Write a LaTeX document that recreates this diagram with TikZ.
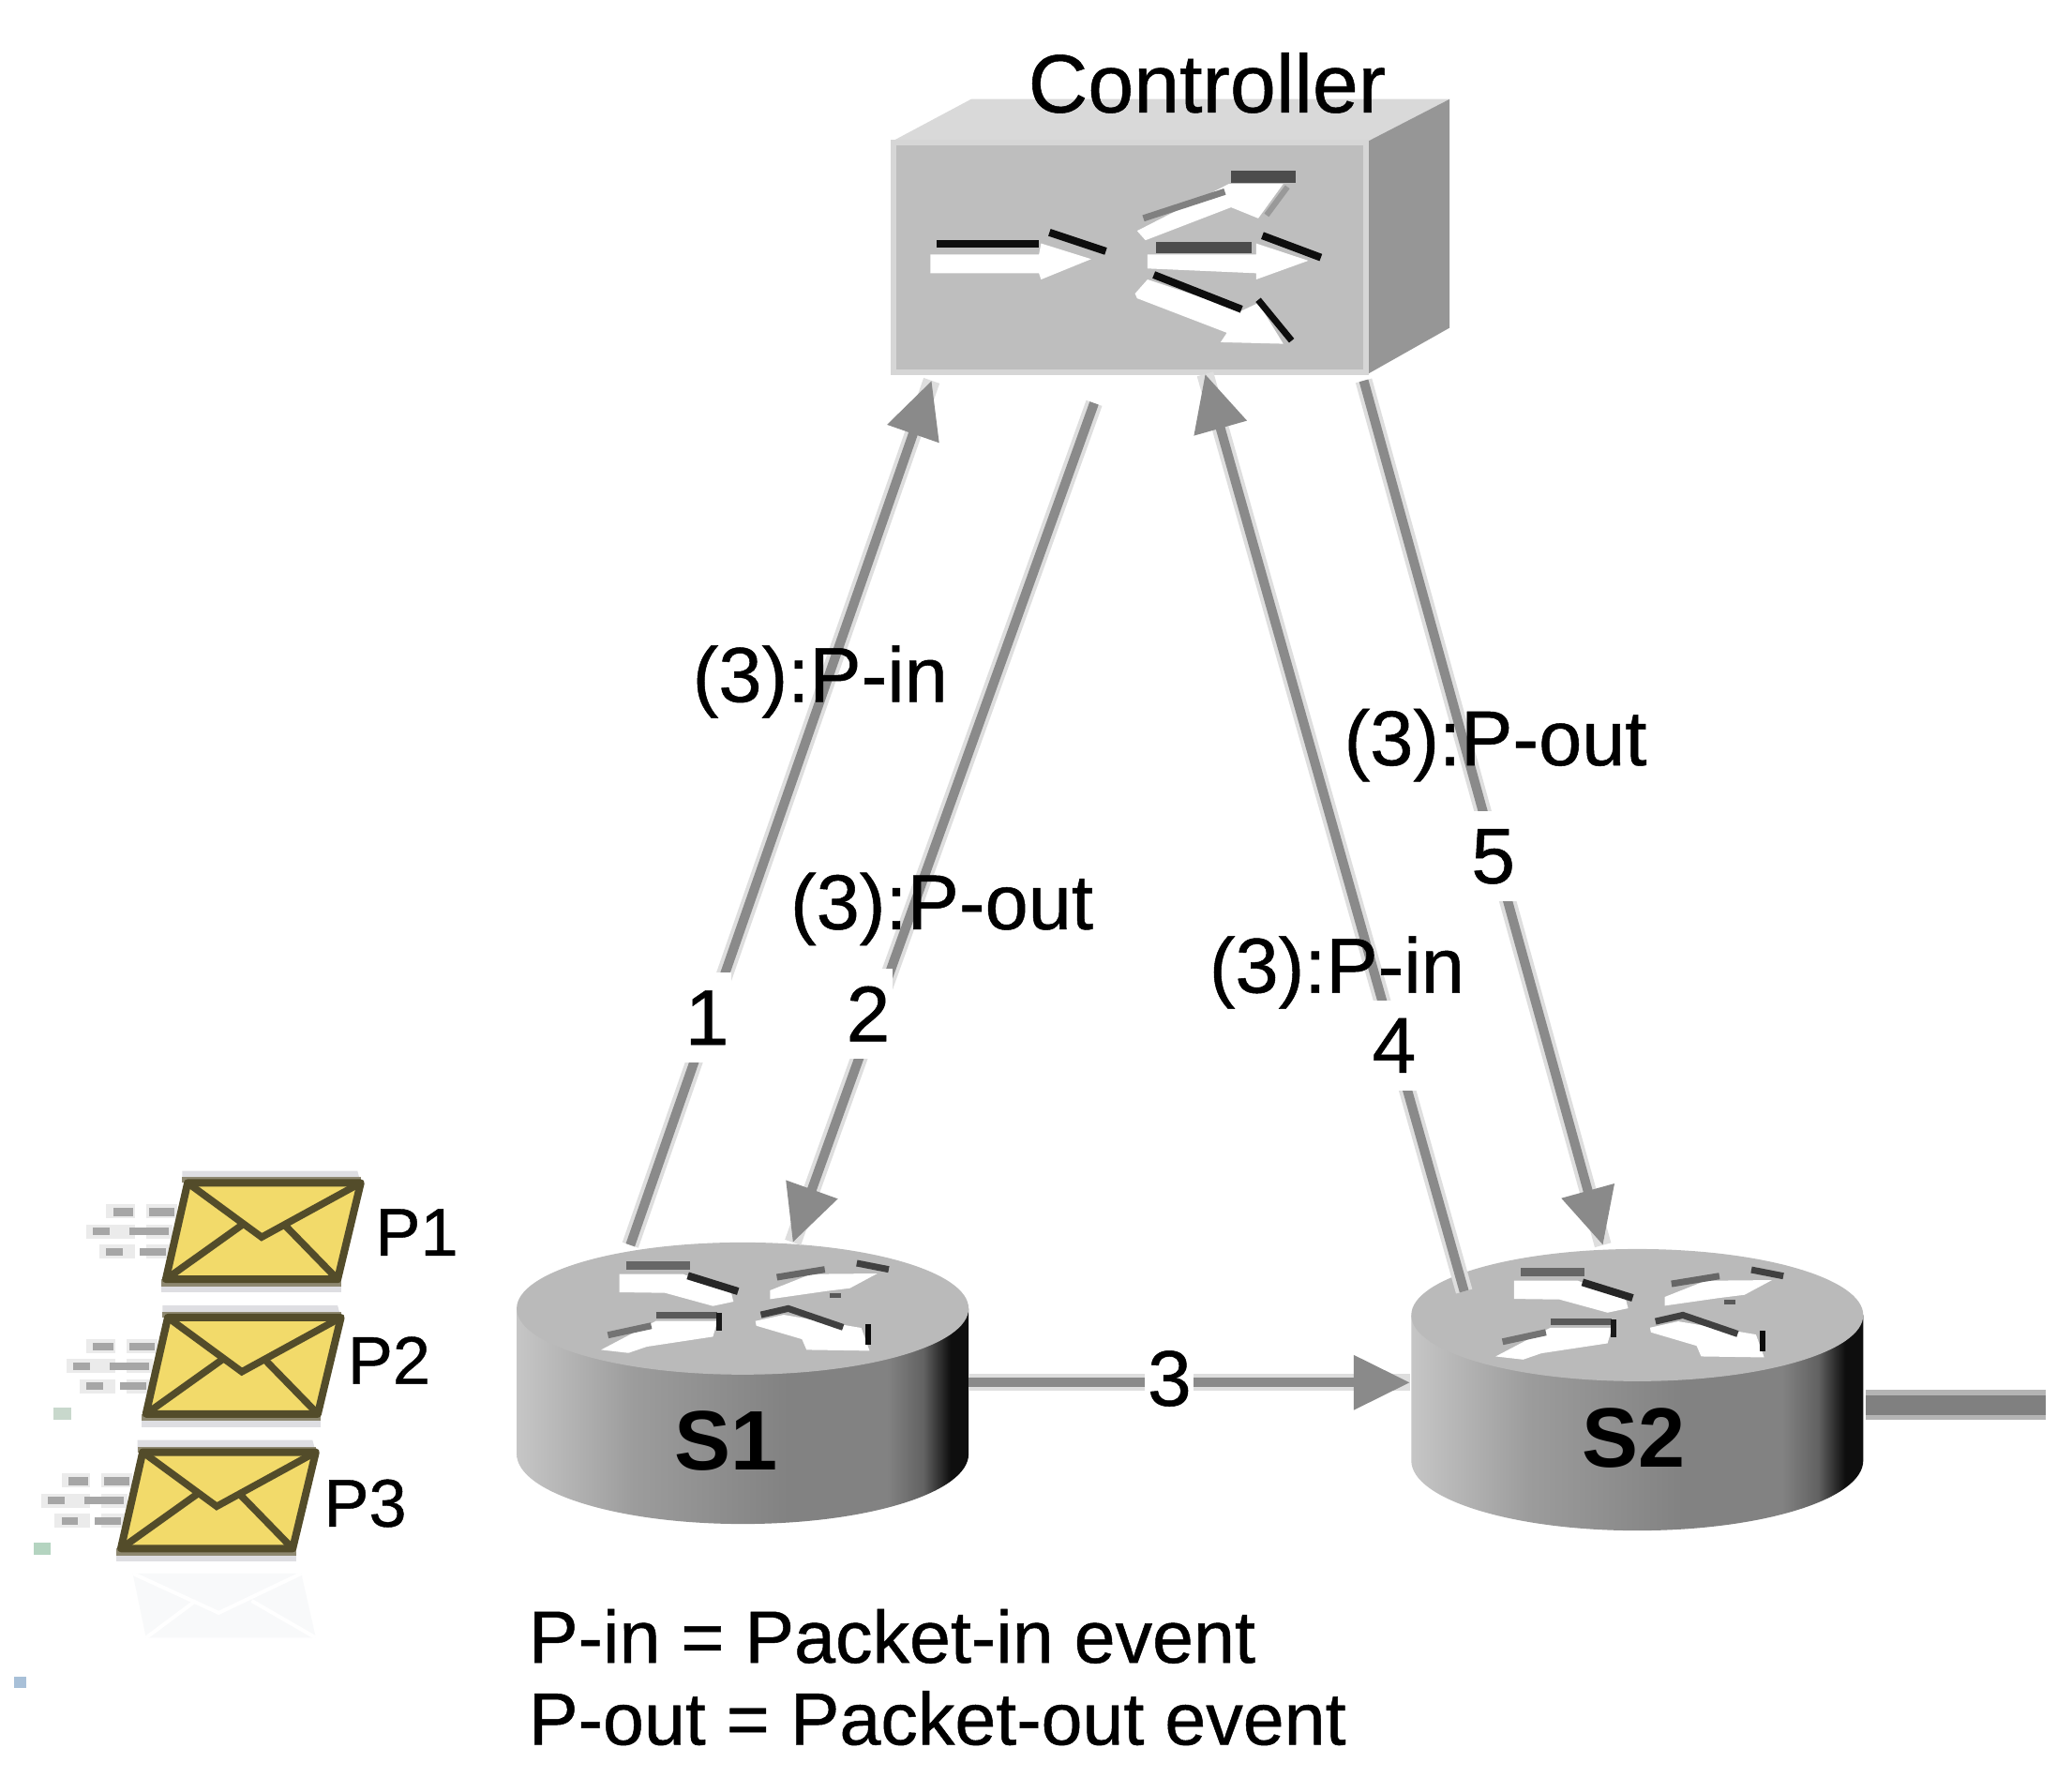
\documentclass[tikz,border=0pt]{standalone}
\usepackage{fontspec}
\setmainfont[FakeBold=0.6]{Liberation Sans}
\newfontfamily\routerfont{Liberation Sans Bold}
\usetikzlibrary{arrows.meta}
\definecolor{boxfront}{HTML}{BEBEBE}
\definecolor{boxrim}{HTML}{D6D6D6}
\definecolor{boxtop}{HTML}{D9D9D9}
\definecolor{boxside}{HTML}{969696}
\definecolor{flowgray}{HTML}{8A8A8A}
\definecolor{flowhalo}{HTML}{DEDEDE}
\definecolor{stubhalo}{HTML}{B4B4B4}
\definecolor{stubcore}{HTML}{808080}
\definecolor{routertop}{HTML}{BABABA}
\definecolor{rA}{HTML}{C6C6C6}
\definecolor{rB}{HTML}{9C9C9C}
\definecolor{rC}{HTML}{828282}
\definecolor{rD}{HTML}{626262}
\definecolor{rE}{HTML}{2A2A2A}
\definecolor{rF}{HTML}{0E0E0E}
\definecolor{envfill}{HTML}{F2DA6A}
\definecolor{envedge}{HTML}{534C2A}
\definecolor{envband}{HTML}{8E8870}
\definecolor{envglow}{HTML}{DEDEE2}
\definecolor{dashmark}{HTML}{A6A6A6}
\definecolor{dashglow}{HTML}{EBEBEB}
\definecolor{reflect}{HTML}{F8F9FA}
\definecolor{speckA}{HTML}{C8D8CC}
\definecolor{speckB}{HTML}{B4D4C0}
\definecolor{speckC}{HTML}{A8C0D8}
\pgfdeclarehorizontalshading{routerbody}{100bp}{color(0bp)=(rA); color(25bp)=(rA); color(38bp)=(rB); color(55bp)=(rC); color(66bp)=(rC); color(70bp)=(rD); color(72bp)=(rE); color(73bp)=(rF); color(100bp)=(rF)}
\newcommand{\routerglyphs}[2]{%
\begin{scope}[shift={(#1,#2)},x=.487pt,y=-.3336pt]
 \fill[white] (340,340)--(480,340)--(585,400)--(590,428)--(545,442)--(440,400)--(340,398)--cycle;
 \fill[white] (670,392)--(760,340)--(905,338)--(845,385)--(790,395)--(670,420)--cycle;
 \fill[white] (300,582)--(420,490)--(555,490)--(545,540)--(400,572)--(360,592)--cycle;
 \fill[white] (638,490)--(700,470)--(870,512)--(888,585)--(750,582)--(740,548)--(640,505)--cycle;
 \draw[line width=9pt,black!60] (355,312)--(495,312);
 \draw[line width=8pt,black!85] (490,345)--(600,395);
 \draw[line width=7pt,black!60] (685,350)--(790,325);
 \draw[line width=7pt,black!75] (860,305)--(930,325);
 \fill[black!65] (800,400) rectangle (825,416);
 \draw[line width=7pt,black!55] (315,535)--(410,505);
 \draw[line width=7pt,black!65] (420,470)--(555,470);
 \draw[line width=6pt,black!90] (558,465)--(558,520);
 \draw[line width=7pt,black!75] (650,470)--(710,450)--(830,510);
 \draw[line width=6pt,black!95] (885,500)--(885,565);
\end{scope}}
\newcommand{\envelope}[2]{%
\begin{scope}[shift={(#1,#2)}]
 \fill[dashglow] (165,143) rectangle (272,178);
 \fill[dashglow] (135,193) rectangle (265,228);
 \fill[dashglow] (155,243) rectangle (262,278);
 \fill[white] (208,138) rectangle (225,285);
 \fill[dashmark] (175,152) rectangle (205,172);
 \fill[dashmark] (230,152) rectangle (268,172);
 \fill[dashmark] (145,202) rectangle (170,220);
 \fill[dashmark] (200,202) rectangle (260,220);
 \fill[dashmark] (165,252) rectangle (190,270);
 \fill[dashmark] (215,252) rectangle (255,270);
 \fill[envglow] (280,60) -- (545,60) -- (550,90) -- (280,90) -- cycle;
 \fill[envglow] (248,330) rectangle (520,362);
 \fill[envband] (280,76) -- (550,76) -- (550,90) -- (280,90) -- cycle;
 \fill[envband] (248,330) rectangle (520,347);
 \draw[envedge,fill=envfill,line width=8pt,line join=round] (288,90)--(550,90)--(515,330)--(255,330)--cycle;
 \draw[envedge,line width=7.5pt] (288,90)--(400,225)--(550,90);
 \draw[envedge,line width=7.5pt] (255,330)--(370,195);
 \draw[envedge,line width=7.5pt] (515,330)--(435,195);
\end{scope}}
\tikzset{
 flow/.style={draw=flowgray,line width=10pt,
   preaction={draw=flowhalo,line width=18pt,-},
   -{Triangle[length=60pt,width=56pt,fill=flowgray]}},
 label text/.style={anchor=base west,inner sep=0pt,text=black,font=\fontsize{83}{90}\selectfont},
 note text/.style={anchor=base west,inner sep=0pt,text=black,font=\fontsize{79}{90}\selectfont},
 packet text/.style={anchor=base west,inner sep=0pt,text=black,font=\fontsize{72}{80}\selectfont},
 router text/.style={anchor=base west,inner sep=0pt,text=black,font=\routerfont\fontsize{90}{98}\selectfont},
 step number/.style={fill=white,inner sep=0pt,minimum width=52pt,minimum height=96pt,text=black,font=\fontsize{84}{90}\selectfont},
 box face/.style={rectangle,fill=boxfront,draw=boxrim,line width=6pt,inner sep=0pt,minimum width=504pt,minimum height=245pt},
}
\begin{document}
\begin{tikzpicture}[x=1.40944pt,y=-1.40944pt]
\useasboundingbox (0,0) rectangle (1568,1345.2);
\fill[white] (0,0) rectangle (1568,1345.2);
% named connector ends
\coordinate (s1up) at (477,942);
\coordinate (ctlinA) at (705,288);
\coordinate (ctlout) at (828,305);
\coordinate (s1in) at (600,940);
\coordinate (s2up) at (1108,977);
\coordinate (ctlinB) at (912,283);
\coordinate (ctloutB) at (1032,288);
\coordinate (s2in) at (1213,942);
\coordinate (s1right) at (733,1046);
\coordinate (s2left) at (1067,1046);
\coordinate (s2right) at (1412,1063);
\coordinate (wire) at (1548,1063);
% controller
\fill[boxtop] (675,107)--(735,75)--(1097,75)--(1035,107)--cycle;
\fill[boxside] (1035,107)--(1097,75)--(1097,248)--(1035,283)--cycle;
\node[box face] (ctl) at (855,195) {};
\begin{scope}[shift={(639.3,20.4)},x=.4454pt,y=-.3345pt]
 \fill[white] (205,725)--(465,725)--(470,690)--(590,740)--(470,805)--(465,785)--(205,785)--cycle;
 \fill[white] (700,650)--(920,500)--(1050,500)--(990,610)--(925,575)--(720,680)--cycle;
 \fill[white] (725,725)--(985,725)--(985,690)--(1110,745)--(985,805)--(985,785)--(725,770)--cycle;
 \fill[white] (695,850)--(725,805)--(950,905)--(990,880)--(1050,1010)--(900,1005)--(915,975)--(700,865)--cycle;
 \draw[black!95,line width=8pt] (220,692)--(465,692);
 \draw[black!95,line width=8pt] (490,655)--(625,715);
 \fill[black!70] (925,458) rectangle (1080,497);
 \draw[black!50,line width=7pt] (715,610)--(910,525);
 \draw[black!40,line width=6pt] (1060,510)--(1010,600);
 \fill[black!70] (745,685) rectangle (975,720);
 \draw[black!95,line width=8pt] (1000,665)--(1140,735);
 \draw[black!95,line width=8pt] (740,790)--(950,900);
 \draw[black!95,line width=7pt] (990,870)--(1070,1000);
\end{scope}
% routers
\foreach \nm/\cx/\cy/\ox/\oy in {s1/562/990/351.2/883.5,s2/1239/995/1028.2/888.5}{
 \begin{scope}[shift={(\cx,\cy)},x=1.40944pt,y=1.40944pt]
  \path[shading=routerbody] (-171,0)--(-171,-110) arc[start angle=180,end angle=360,x radius=171,y radius=53]--(171,0)--cycle;
  \fill[routertop] (0,0) ellipse [x radius=171,y radius=50];
 \end{scope}
 \routerglyphs{\ox}{\oy}
}
\coordinate (s1) at (562,990);
\coordinate (s2) at (1239,995);
% envelopes
\begin{scope}[shift={(-2,867.6)},x=.7047pt,y=-.4285pt]
 \fill[reflect] (205,1062)--(460,1062)--(482,1222)--(225,1222)--cycle;
 \draw[white,line width=4pt] (205,1062)--(335,1160)--(460,1062);
 \draw[white,line width=4pt] (225,1222)--(300,1130);
 \draw[white,line width=4pt] (482,1222)--(385,1130);
 \envelope{0}{0}
 \envelope{-30}{335}
 \envelope{-68}{670}
 \fill[speckA] (85,650) rectangle (112,680);
 \fill[speckB] (55,985) rectangle (80,1015);
 \fill[speckC] (25,1320) rectangle (44,1348);
\end{scope}
% connectors
\draw[flow] (s1up)--(ctlinA);
\draw[flow] (ctlout)--(s1in);
\draw[flow] (s2up)--(ctlinB);
\draw[flow] (ctloutB)--(s2in);
\draw[flow] (s1right)--(s2left);
\draw[stubhalo,line width=32pt] (s2right)--(wire);
\draw[stubcore,line width=21pt] (s2right)--(wire);
% step numbers
\node[step number] (n1) at (535,770) {1};
\node[step number] (n2) at (657,767) {2};
\node[step number] (n3) at (885,1043) {3};
\node[step number] (n4) at (1055,791) {4};
\node[step number] (n5) at (1130,648) {5};
% labels
\node[label text,font=\fontsize{88}{92}\selectfont] (title) at (778,85) {Controller};
\node[label text] (l1) at (524,531) {(3):P-in};
\node[label text] (l2) at (598,703) {(3):P-out};
\node[label text] (l3) at (1017,579) {(3):P-out};
\node[label text] (l4) at (915,751) {(3):P-in};
\node[router text] (t1) at (510,1112) {S1};
\node[router text] (t2) at (1197,1110) {S2};
\node[packet text] (p1) at (284,950) {P1};
\node[packet text] (p2) at (263,1047) {P2};
\node[packet text] (p3) at (245,1155) {P3};
\node[note text] (k1) at (400,1258) {P-in = Packet-in event};
\node[note text] (k2) at (400,1320) {P-out = Packet-out event};
\end{tikzpicture}
\end{document}
